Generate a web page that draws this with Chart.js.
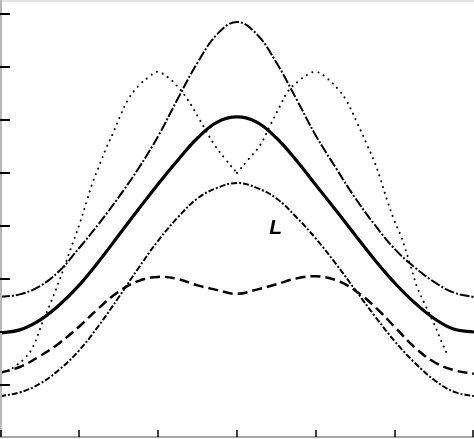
<!DOCTYPE html>
<html>
<head>
<meta charset="utf-8">
<script src="https://cdn.jsdelivr.net/npm/chart.js@4"></script>
<style>
  html, body { margin: 0; padding: 0; background: #fff; }
</style>
</head>
<body>
<canvas id="curveChart" width="474" height="439"></canvas>
<script>
// Tick positions (no labels in the original)
const xTicks = [0, 1, 2, 3, 4, 5, 6];
const yTicks = [1, 2, 3, 4, 5, 6, 7, 8];

// Shared x grid for the smooth curves
const gridX = [0, 0.25, 0.5, 0.75, 1, 1.25, 1.5, 1.75, 2, 2.25, 2.5, 2.75, 3, 3.25, 3.5, 3.75, 4, 4.25, 4.5, 4.75, 5, 5.25, 5.5, 5.75, 6];

// Thick solid curve
const solidY = [1.98, 2.04, 2.22, 2.51, 2.88, 3.33, 3.82, 4.31, 4.79, 5.24, 5.66, 5.96, 6.06, 5.96, 5.66, 5.24, 4.77, 4.30, 3.82, 3.35, 2.92, 2.55, 2.25, 2.05, 2.0];

// Upper dash-dot curve
const upperY = [2.66, 2.71, 2.86, 3.15, 3.58, 4.04, 4.54, 5.08, 5.69, 6.40, 7.08, 7.62, 7.85, 7.62, 7.08, 6.40, 5.70, 5.10, 4.52, 4.01, 3.56, 3.22, 2.94, 2.74, 2.66];

// Lower dash-dot curve
const lowerY = [0.79, 0.86, 1.02, 1.29, 1.65, 2.12, 2.65, 3.20, 3.72, 4.16, 4.52, 4.72, 4.81, 4.72, 4.52, 4.17, 3.76, 3.29, 2.79, 2.29, 1.82, 1.42, 1.09, 0.87, 0.79];

// Dashed curve (two humps)
const dashY = [1.23, 1.34, 1.54, 1.79, 2.10, 2.45, 2.76, 2.96, 3.04, 3.0, 2.88, 2.79, 2.72, 2.80, 2.90, 3.01, 3.05, 2.98, 2.78, 2.47, 2.09, 1.71, 1.43, 1.28, 1.21];

// Dotted curve, left half (up to the V)
const dotLeftX = [0.16, 0.29, 0.41, 0.54, 0.63, 0.72, 0.80, 0.89, 1.01, 1.10, 1.18, 1.27, 1.35, 1.43, 1.52, 1.62, 1.75, 1.90, 1.99, 2.13, 2.23, 2.37, 2.53, 2.72, 2.86, 3.0];
const dotLeftY = [1.32, 1.47, 1.70, 2.19, 2.51, 2.85, 3.17, 3.55, 4.05, 4.48, 4.85, 5.19, 5.49, 5.75, 6.07, 6.38, 6.64, 6.83, 6.91, 6.80, 6.66, 6.40, 6.0, 5.52, 5.25, 5.0];

// Dotted curve, right half (from the V)
const dotRightX = [3.0, 3.14, 3.29, 3.42, 3.54, 3.65, 3.80, 3.90, 4.0, 4.13, 4.28, 4.38, 4.52, 4.65, 4.73, 4.82, 4.90, 4.99, 5.08, 5.20, 5.28, 5.37, 5.49, 5.58, 5.66];
const dotRightY = [5.0, 5.25, 5.52, 5.90, 6.25, 6.55, 6.76, 6.86, 6.91, 6.80, 6.58, 6.38, 5.95, 5.52, 5.25, 4.87, 4.49, 4.11, 3.79, 3.23, 2.85, 2.55, 2.17, 1.85, 1.58];

// Curve label
const labelText = 'L';
const labelPos = [3.49, 3.96];

// Ghép x, y thành điểm
function toPoints(xs, ys) {
  return xs.map((x, i) => ({ x: x, y: ys[i] }));
}

// Plugin vẽ khung, vạch chia và nhãn
const frameAndTicks = {
  id: 'frameAndTicks',
  afterDatasetsDraw(chart) {
    const ctx = chart.ctx;
    const area = chart.chartArea;
    const xs = chart.scales.x;
    const ys = chart.scales.y;
    ctx.save();

    // top border
    ctx.strokeStyle = '#e3e3e3';
    ctx.lineWidth = 2;
    ctx.beginPath();
    ctx.moveTo(0, 1);
    ctx.lineTo(chart.width, 1);
    ctx.stroke();

    // left border
    ctx.strokeStyle = '#b8b8b8';
    ctx.beginPath();
    ctx.moveTo(1, 0);
    ctx.lineTo(1, area.bottom);
    ctx.stroke();

    // bottom border
    ctx.strokeStyle = '#a8a8a8';
    ctx.beginPath();
    ctx.moveTo(0, area.bottom);
    ctx.lineTo(chart.width, area.bottom);
    ctx.stroke();

    // left ticks
    ctx.strokeStyle = '#000';
    ctx.lineWidth = 2;
    yTicks.forEach(v => {
      const py = Math.round(ys.getPixelForValue(v));
      ctx.beginPath();
      ctx.moveTo(0, py);
      ctx.lineTo(10, py);
      ctx.stroke();
    });

    // bottom ticks
    ctx.lineWidth = 1.5;
    xTicks.forEach(v => {
      let px = Math.round(xs.getPixelForValue(v));
      px = Math.min(Math.max(px, 1), chart.width - 1);
      ctx.beginPath();
      ctx.moveTo(px, area.bottom);
      ctx.lineTo(px, area.bottom - 7);
      ctx.stroke();
    });

    // label L
    ctx.fillStyle = '#000';
    ctx.font = 'italic bold 21px "Liberation Sans", Arial, sans-serif';
    ctx.textAlign = 'center';
    ctx.textBaseline = 'middle';
    ctx.fillText(labelText, xs.getPixelForValue(labelPos[0]), ys.getPixelForValue(labelPos[1]));

    ctx.restore();
  }
};

// Kiểu nét dùng chung cho đường chấm
const dottedStyle = {
  borderColor: '#000',
  borderWidth: 2,
  borderDash: [0.1, 6],
  borderCapStyle: 'round',
  tension: 0.4,
  pointRadius: 0
};

const ctx = document.getElementById('curveChart').getContext('2d');

new Chart(ctx, {
  type: 'line',
  data: {
    datasets: [
      Object.assign({ data: toPoints(dotLeftX, dotLeftY) }, dottedStyle),
      Object.assign({ data: toPoints(dotRightX, dotRightY) }, dottedStyle),
      {
        data: toPoints(gridX, dashY),
        borderColor: '#000',
        borderWidth: 2.5,
        borderDash: [10, 5],
        tension: 0.4,
        pointRadius: 0
      },
      {
        data: toPoints(gridX, lowerY),
        borderColor: '#000',
        borderWidth: 2,
        borderDash: [6, 2, 2, 2],
        tension: 0.4,
        pointRadius: 0
      },
      {
        data: toPoints(gridX, upperY),
        borderColor: '#000',
        borderWidth: 2,
        borderDash: [10, 2, 2, 2],
        tension: 0.4,
        pointRadius: 0
      },
      {
        data: toPoints(gridX, solidY),
        borderColor: '#000',
        borderWidth: 3.2,
        tension: 0.4,
        pointRadius: 0
      }
    ]
  },
  options: {
    responsive: false,
    animation: false,
    devicePixelRatio: 1,
    layout: { padding: { left: 0, right: 0, top: 0, bottom: 2 } },
    plugins: {
      legend: { display: false },
      tooltip: { enabled: false }
    },
    scales: {
      x: { type: 'linear', min: 0, max: 6, display: false },
      y: { type: 'linear', min: 0.019, max: 8.264, display: false }
    }
  },
  plugins: [frameAndTicks]
});
</script>
</body>
</html>
